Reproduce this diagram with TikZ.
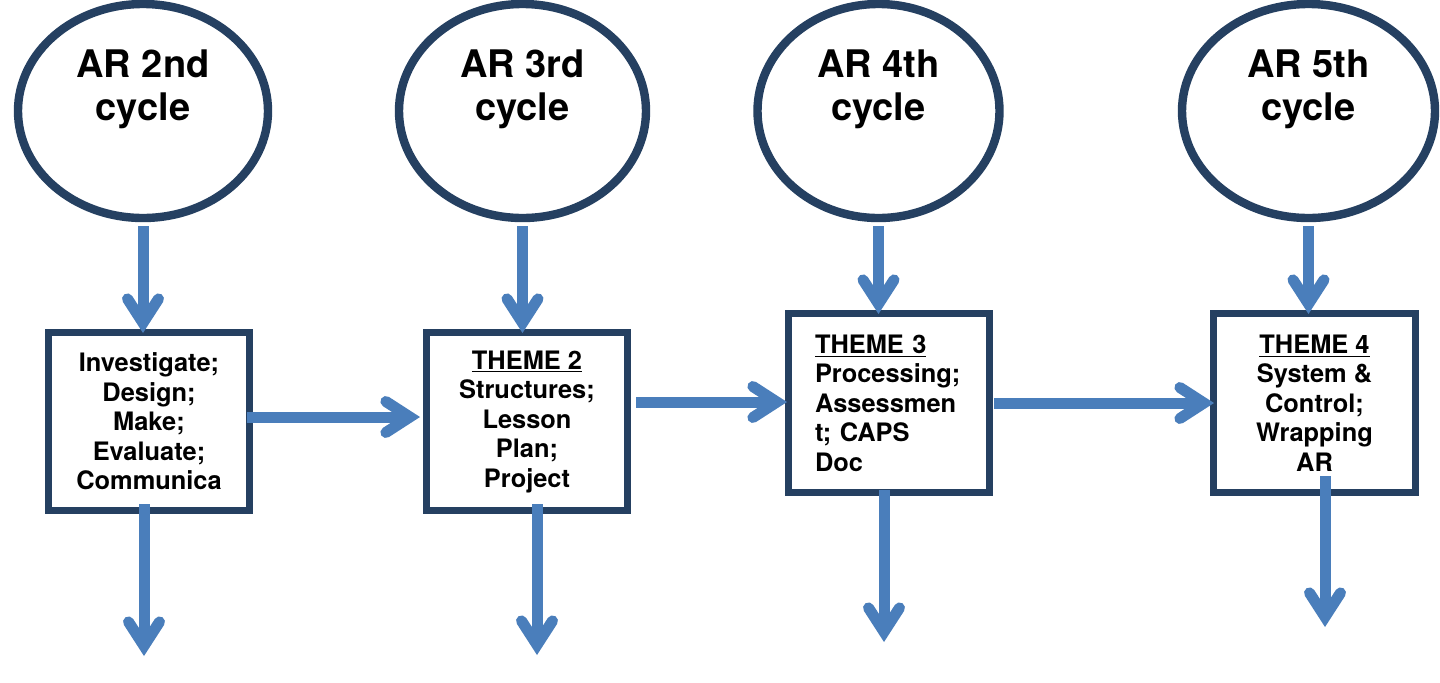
\documentclass[tikz,border=0pt]{standalone}
\usepackage{fontspec}
\setmainfont{TeX Gyre Heros}
\usetikzlibrary{arrows.meta,shapes.geometric,calc}
\definecolor{darkline}{RGB}{37,64,97}
\definecolor{arrowblue}{RGB}{74,126,187}
\tikzset{
  cyc/.style={ellipse, draw=darkline, line width=4.2pt, fill=white, inner sep=0pt,
              minimum height=107pt},
  cyctxt/.style={align=center, inner sep=0pt, font=\fontsize{19}{21.5}\selectfont\bfseries},
  theme/.style={rectangle, draw=darkline, line width=3.5pt, fill=white, inner sep=0pt,
                minimum width=100.5pt, minimum height=89pt, align=center,
                font=\fontsize{12.7}{14.75}\selectfont\bfseries},
  flow/.style={draw=arrowblue, line width=5.5pt,
               -{Straight Barb[length=12pt,width=15.5pt,line cap=round,line join=miter]}}
}
\begin{document}
\begin{tikzpicture}[x=0.5pt,y=-0.5pt]
\useasboundingbox (0,0) rectangle (1440,682);
% cycles
\node[cyc, minimum width=125pt] (e1) at (143,111) {};
\node[cyc, minimum width=123.5pt] (e2) at (522.5,111) {};
\node[cyc, minimum width=121pt] (e3) at (878.5,111) {};
\node[cyc, minimum width=126.5pt] (e4) at (1308.5,111) {};
\node[cyctxt] (t1) at ([yshift=11pt]e1.center) {AR 2nd\\cycle};
\node[cyctxt] (t2) at ([yshift=11pt]e2.center) {AR 3rd\\cycle};
\node[cyctxt] (t3) at ([yshift=11pt]e3.center) {AR 4th\\cycle};
\node[cyctxt] (t4) at ([yshift=11pt]e4.center) {AR 5th\\cycle};
% themes
\node[theme] (b1) at (149,421.5) {Investigate;\\Design;\\Make;\\Evaluate;\\Communica};
\node[theme] (b2) at (527,421.5) {\underline{THEME 2}\\Structures;\\Lesson\\Plan;\\Project};
\node[theme, align=left, text width=74pt, inner xsep=13.25pt, minimum height=89.5pt] (b3) at (889,403)
  {\underline{THEME 3}\\Processing;\\Assessmen\\t; CAPS\\Doc};
\node[theme, minimum width=101pt, minimum height=89.5pt] (b4) at (1314.5,403) {\underline{THEME 4}\\System \&\\Control;\\Wrapping\\AR};
% free ends
\coordinate (d1) at (144,656);
\coordinate (d2) at (537,655);
\coordinate (d3) at (884,642);
\coordinate (d4) at (1325,627);
% top arrows
\draw[flow] ([yshift=-2pt]e1.south) -- ([yshift=-2pt]e1.south |- b1.north);
\draw[flow] ([yshift=-2pt]e2.south) -- ([yshift=-2pt]e2.south |- b2.north);
\draw[flow] ([yshift=-2pt]e3.south) -- ([yshift=-2pt]e3.south |- b3.north);
\draw[flow] ([yshift=-2pt]e4.south) -- ([yshift=-2pt]e4.south |- b4.north);
% down arrows
\draw[flow] ($(d1 |- b1.south)+(0,-10)$) -- (d1);
\draw[flow] ($(d2 |- b2.south)+(0,-10)$) -- (d2);
\draw[flow] ($(d3 |- b3.south)+(0,-6)$) -- (d3);
\draw[flow] ($(d4 |- b4.south)+(0,-20)$) -- (d4);
% horizontal arrows
\coordinate (h1) at ($(b1.east)+(-6,-4.5)$);
\coordinate (h2) at ($(b2.east)+(5,-19.5)$);
\coordinate (h3) at ($(b3.east)+(1,0)$);
\draw[flow] (h1) -- ($(h1 -| b2.west)+(-3,0)$);
\draw[flow] (h2) -- ($(h2 -| b3.west)+(2,0)$);
\draw[flow] (h3) -- ($(h3 -| b4.west)+(4,0)$);
\end{tikzpicture}
\end{document}
